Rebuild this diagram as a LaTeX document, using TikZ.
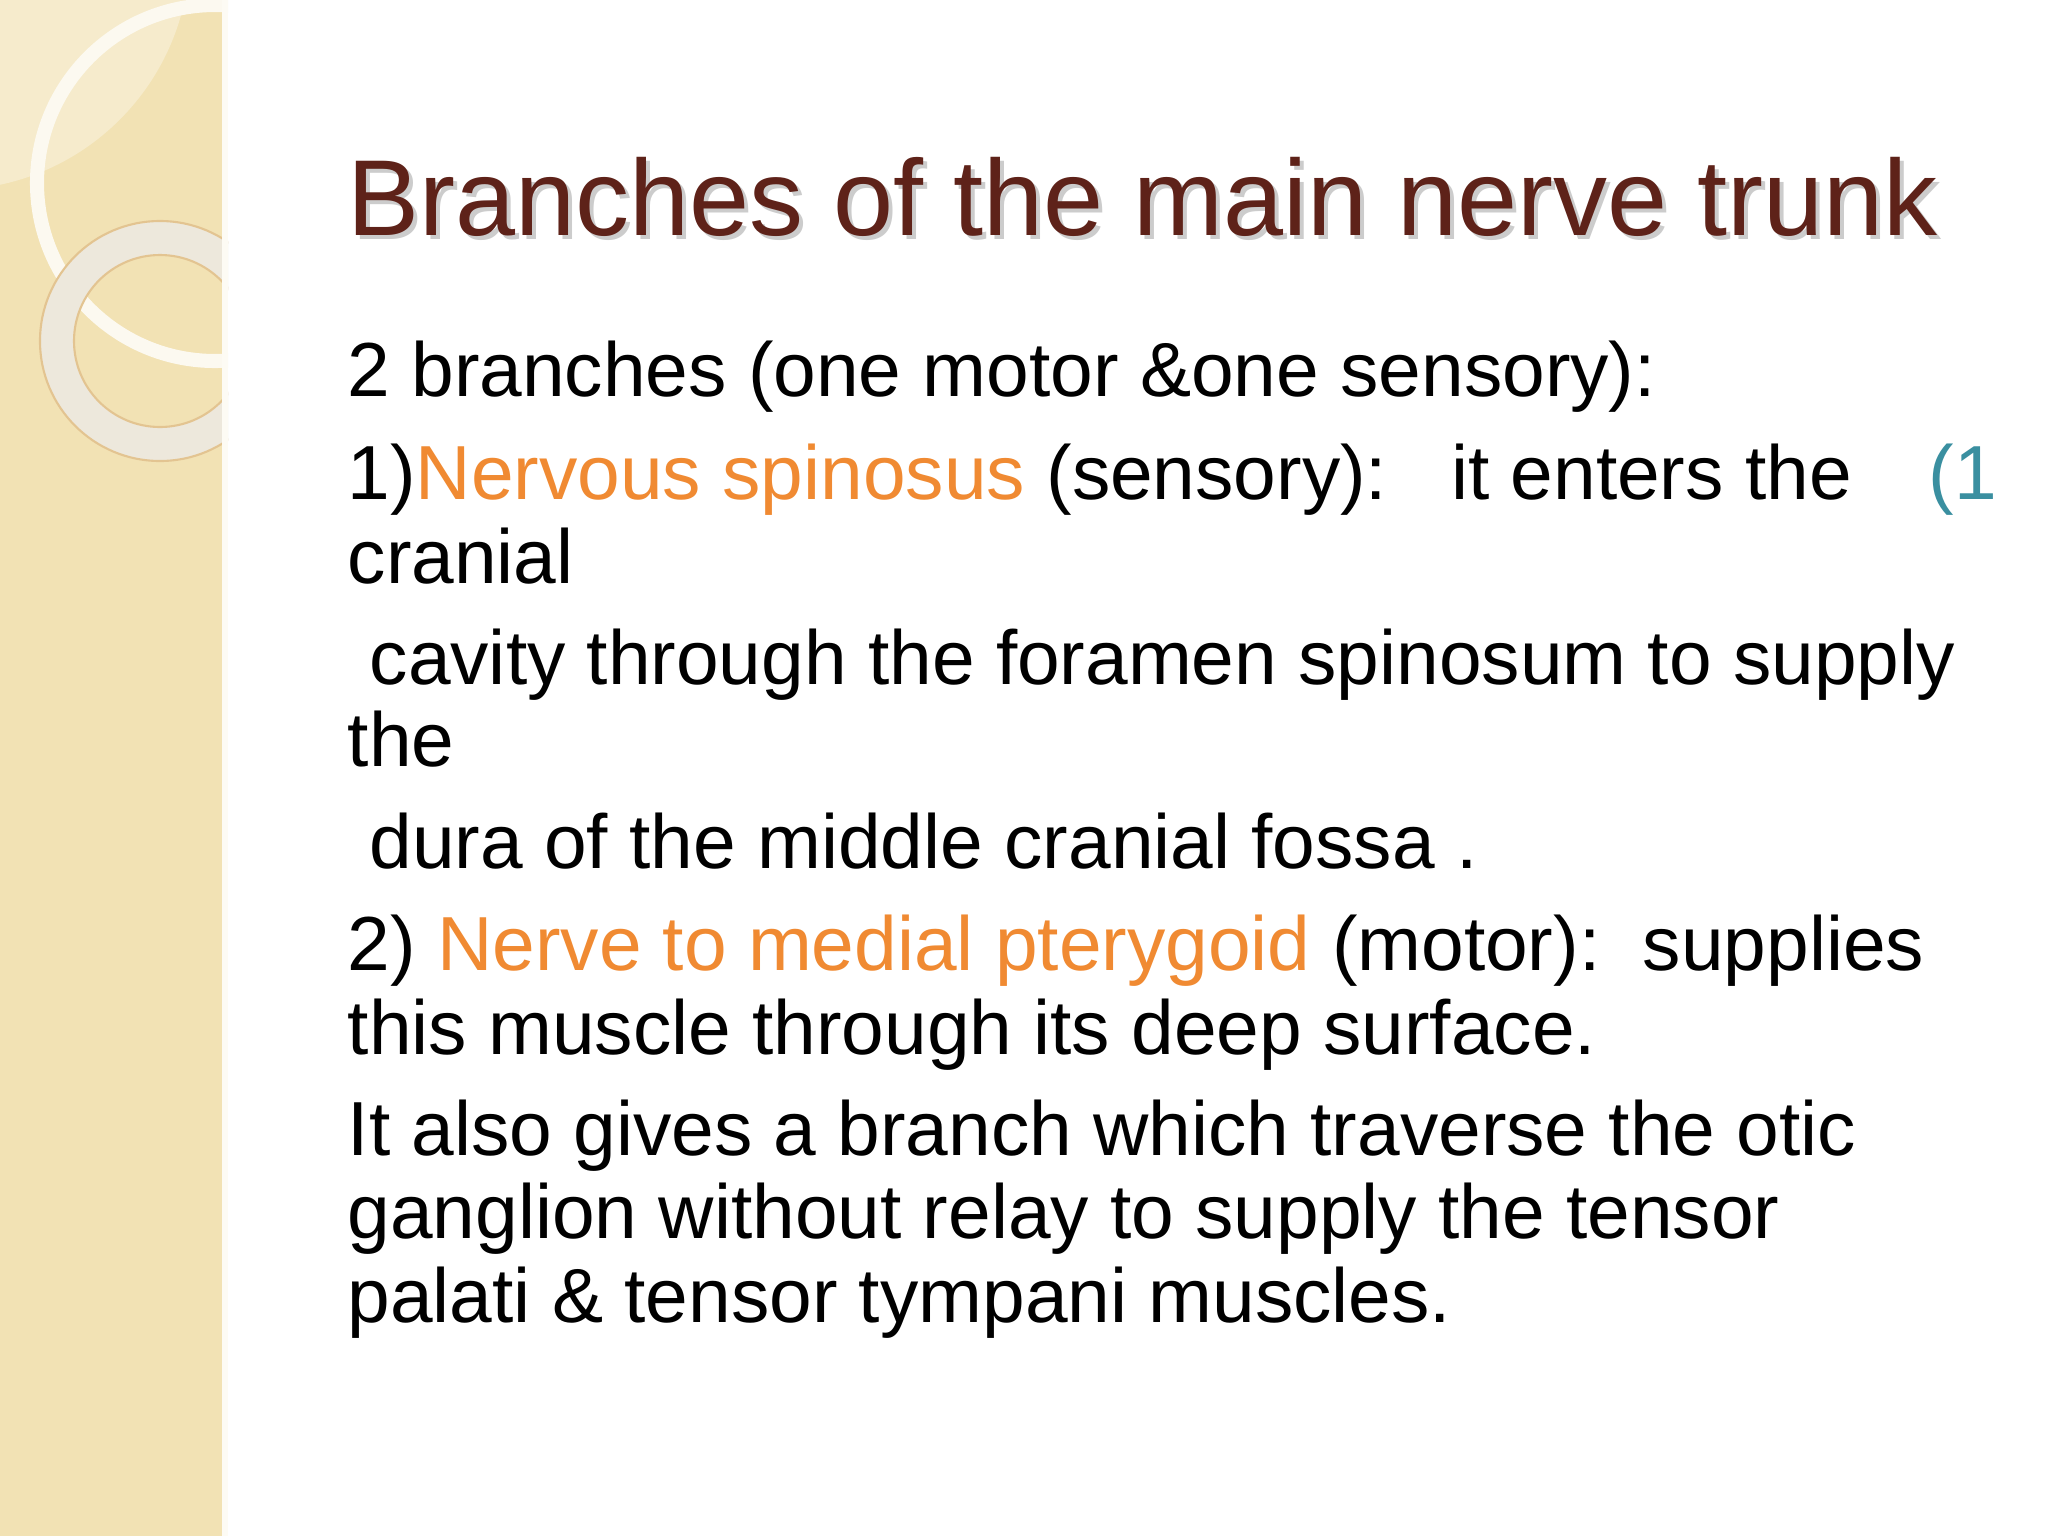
\documentclass[tikz,border=0pt]{standalone}
\usepackage{fontspec}
\setmainfont{Liberation Sans}
\definecolor{titlebrown}{HTML}{5E2219}
\definecolor{hilite}{HTML}{F08A32}
\definecolor{tealnote}{HTML}{3A8FA0}
\definecolor{strip}{HTML}{F2E2B4}
\definecolor{stripLight}{HTML}{F6EBCC}
\definecolor{ringfill}{HTML}{EDE8DC}
\tikzset{
  bodyline/.style={anchor=base west, inner sep=0pt, font=\fontsize{21.8pt}{26pt}\selectfont},
  titletext/.style={anchor=base west, inner sep=0pt, font=\fontsize{30.7pt}{36pt}\selectfont, text=titlebrown}
}
\begin{document}
\begin{tikzpicture}[x=0.01cm,y=-0.01cm]
   \useasboundingbox (0,0) rectangle (2048,1536);
   \fill[white] (0,0) rectangle (2048,1536);

   % left strip
   \begin{scope}
     \clip (0,0) rectangle (228,1536);
     \fill[strip] (0,0) rectangle (228,1536);
     \fill[stripLight] (-50,-50) circle (240);
     \draw[line width=4, white!80!strip] (215,183) circle (178);
     \fill[ringfill, even odd rule] (160,341) circle (120) (160,341) circle (86);
     \draw[strip!70!brown, line width=0.6] (160,341) circle (120) (160,341) circle (86);
     \fill[white!85!strip] (222,0) rectangle (228,1536);
   \end{scope}

   % title
   \node[titletext, text=gray!40] at (351,239) {Branches of the main nerve trunk};
   \node[titletext] (title) at (347,235) {Branches of the main nerve trunk};

   % body
   \node[bodyline] (l1) at (347,396) {2 branches (one motor \&one sensory):};
   \node[bodyline] (l2) at (347,499) {1)\textcolor{hilite}{Nervous spinosus} (sensory):\ \ \ it enters the};
   \node[bodyline, text=tealnote] (note) at (1928,499) {(1};
   \node[bodyline] (l3) at (347,583) {cranial};
   \node[bodyline] (l4) at (369,684) {cavity through the foramen spinosum to supply};
   \node[bodyline] (l5) at (347,766) {the};
   \node[bodyline] (l6) at (369,868) {dura of the middle cranial fossa .};
   \node[bodyline] (l7) at (347,970) {2) \textcolor{hilite}{Nerve to medial pterygoid} (motor):\ \ supplies};
   \node[bodyline] (l8) at (347,1054) {this muscle through its deep surface.};
   \node[bodyline] (l9) at (347,1155) {It also gives a branch which traverse the otic};
   \node[bodyline] (l10) at (347,1238) {ganglion without relay to supply the tensor};
   \node[bodyline] (l11) at (347,1322) {palati \& tensor tympani muscles.};
\end{tikzpicture}
\end{document}
